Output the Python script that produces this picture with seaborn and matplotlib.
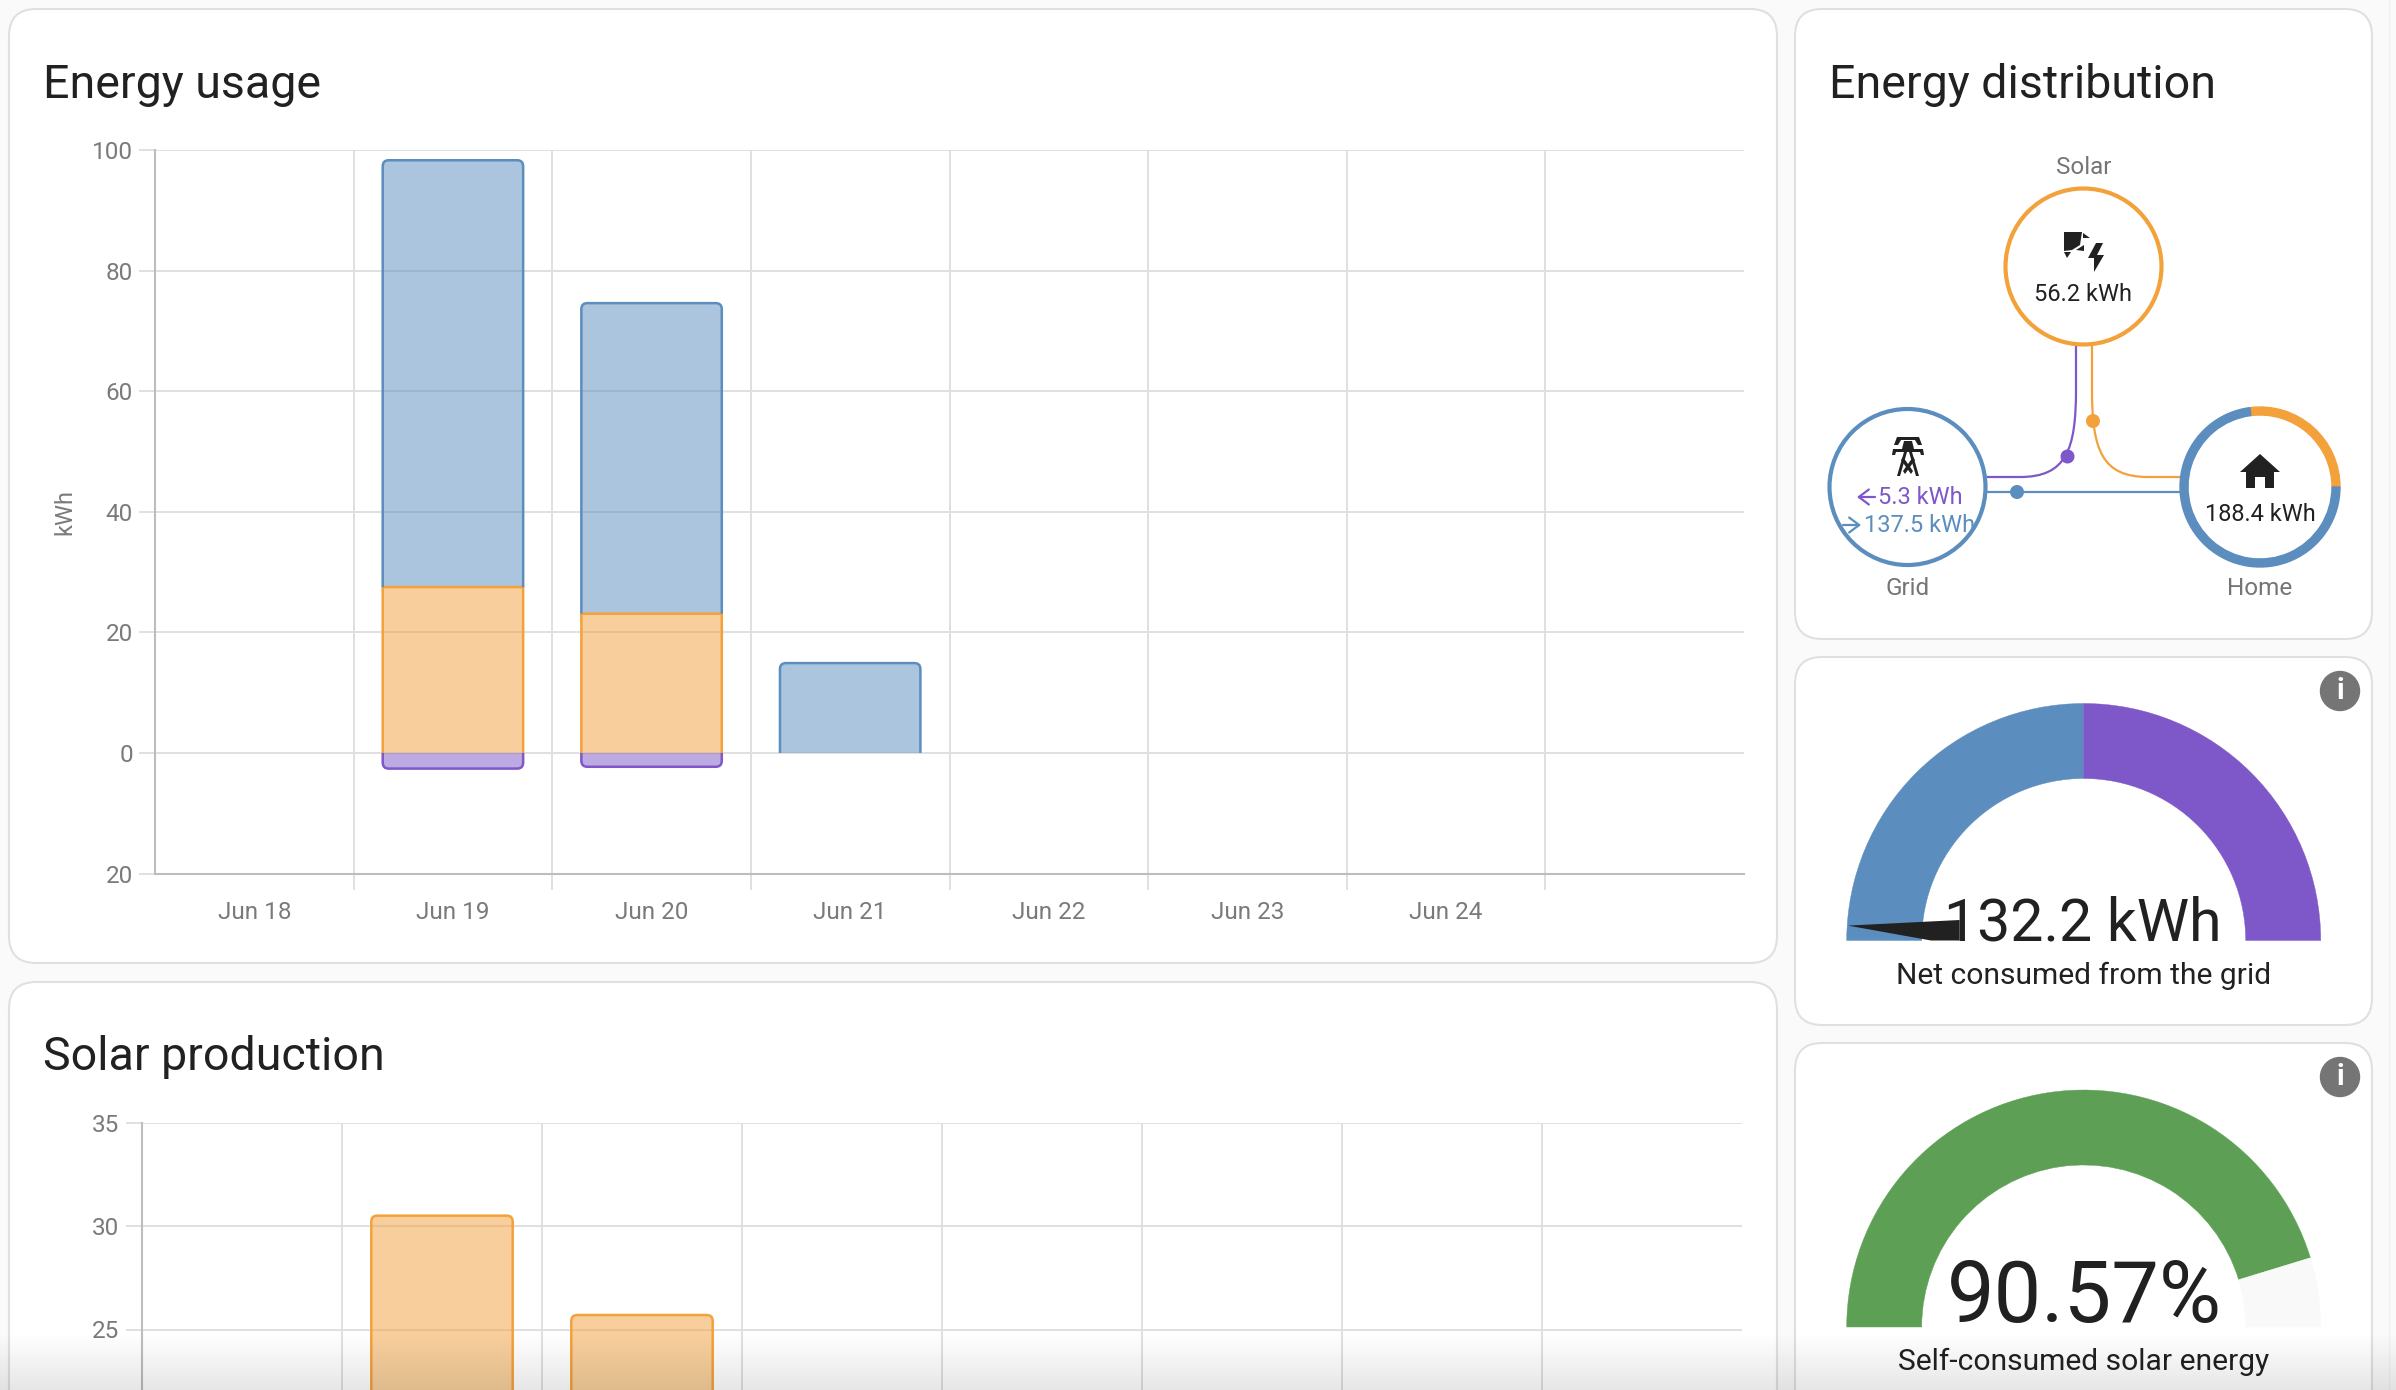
import numpy as np
import pandas as pd
import matplotlib
matplotlib.use('Agg')
import matplotlib.pyplot as plt
import seaborn as sns
from matplotlib.colors import to_rgba
from matplotlib.patches import Circle, FancyBboxPatch, PathPatch, Polygon, Wedge
from matplotlib.path import Path

sns.set_theme(style="white")
plt.rcParams['font.family'] = ['Roboto', 'DejaVu Sans']

# ── Data ─────────────────────────────────────────────────────────────────────
days = ['Jun 18', 'Jun 19', 'Jun 20', 'Jun 21', 'Jun 22', 'Jun 23', 'Jun 24', ' ']
solar_used = [None, 27.5, 23.1, None, None, None, None, None]
grid_used = [None, 70.8, 51.5, 14.9, None, None, None, None]
grid_returned = [None, -2.6, -2.3, None, None, None, None, None]
solar_made = [None, 30.5, 25.7, None, None, None, None, None]

usage_ticks = [100, 80, 60, 40, 20, 0, -20]
usage_ticklabels = ['100', '80', '60', '40', '20', '0', '20']
solar_ticks = [35, 30, 25]

solar_total = 56.2
grid_out = 5.3
grid_in = 137.5
home_total = 188.4
net_split = [50, 50]
self_consumed = 90.57

BLUE = '#5b8dbe'
ORANGE = '#f3a13a'
PURPLE = '#7e57c8'
GREEN = '#5da055'
INK = '#212121'
GREY = '#757575'
GRID = '#e0e0e0'
AXIS = '#bdbdbd'

W, H = 2396, 1390
fig = plt.figure(figsize=(W / 100, H / 100), dpi=100, facecolor='#fafafa')


def px_axes(left, top, right, bottom, zorder):
    return fig.add_axes([left / W, 1 - bottom / H, (right - left) / W, (bottom - top) / H], zorder=zorder)


# Page layer, everything here is in screenshot pixels
page = px_axes(0, 0, W, H, 0)
page.set_xlim(0, W)
page.set_ylim(H, 0)
page.axis('off')

for x0, y0, x1, y1 in [(9, 9, 1777, 963), (9, 982, 1777, 1600),
                       (1795, 9, 2372, 639), (1795, 657, 2372, 1025), (1795, 1043, 2372, 1600)]:
    page.add_patch(FancyBboxPatch((x0, y0), x1 - x0, y1 - y0, boxstyle='round,pad=0,rounding_size=27',
                                  facecolor='white', edgecolor=GRID, linewidth=1.5))
page.plot([2389, 2389], [0, H], color='#f0f0f0', linewidth=1)

for label, x, y in [('Energy usage', 43, 98), ('Solar production', 43, 1070), ('Energy distribution', 1829, 98)]:
    page.text(x, y, label, fontsize=33.5, color=INK, va='baseline')


# ── Bar charts ───────────────────────────────────────────────────────────────
def stacked(ax, values, color, bottoms=None):
    frame = pd.DataFrame({'day': days, 'kwh': values, 'base': bottoms if bottoms else [0.0] * len(days)})
    frame = frame.dropna(subset=['kwh'])
    before = len(ax.patches)
    sns.barplot(data=frame, x='day', y='kwh', order=days, color=color, saturation=1, width=0.707,
                errorbar=None, bottom=frame['base'].values, ax=ax)
    return ax.patches[before:]


def finish_axes(ax, yticks, ylabels, ylim):
    ax.set_facecolor('none')
    ax.set_xlim(-0.5, 7.5)
    ax.set_ylim(*ylim)
    ax.set_xlabel('')
    ax.set_ylabel('')
    ax.set_yticks(yticks)
    ax.set_yticklabels(ylabels)
    ax.set_xticks(np.arange(0.5, 7), minor=True)
    ax.grid(True, axis='y', which='major', color=GRID, linewidth=1.4, zorder=0)
    ax.grid(True, axis='x', which='minor', color=GRID, linewidth=1.4, zorder=0)
    ax.set_axisbelow(True)
    ax.tick_params(axis='x', which='major', length=0, pad=20, labelsize=17.5, labelcolor='#7a7a7a')
    ax.tick_params(axis='x', which='minor', length=11.5, width=1.4, color=GRID, bottom=True)
    ax.tick_params(axis='y', which='major', length=11.5, width=1.4, color=GRID, pad=4.5,
                   left=True, labelsize=17.5, labelcolor='#7a7a7a')
    sns.despine(ax=ax, top=True, right=True)
    for side in ['left', 'bottom']:
        ax.spines[side].set_color(AXIS)
        ax.spines[side].set_linewidth(1.5)


def outline(ax, bar, color, rounded=True, radius=6):
    """Round the bar through a clip path and stroke it, leaving its base side open."""
    x0, w = bar.get_x(), bar.get_width()
    base, tip = bar.get_y(), bar.get_y() + bar.get_height()
    p0, p1 = ax.transData.transform([(0, 0), (1, 1)])
    rx = radius / abs(p1[0] - p0[0])
    ry = radius / abs(p1[1] - p0[1])
    ry = min(ry, abs(tip - base)) * (1 if tip > base else -1)
    if not rounded:
        rx = ry = 0
    verts = [(x0, base), (x0, tip - ry), (x0, tip), (x0 + rx, tip),
             (x0 + w - rx, tip), (x0 + w, tip), (x0 + w, tip - ry), (x0 + w, base)]
    codes = [Path.MOVETO, Path.LINETO, Path.CURVE3, Path.CURVE3,
             Path.LINETO, Path.CURVE3, Path.CURVE3, Path.LINETO]
    bar.set_facecolor(to_rgba(color, 0.5))
    bar.set_edgecolor('none')
    bar.set_linewidth(0)
    bar.set_clip_path(Path(verts + [(x0, base)], codes + [Path.CLOSEPOLY]), ax.transData)
    ax.add_patch(PathPatch(Path(verts, codes), facecolor='none', edgecolor=color, linewidth=1.8, zorder=3))


usage_ax = px_axes(155, 150, 1744, 873.5, 1)
blue_base = [0.0 if v is None else v for v in solar_used]
usage_bars = [(stacked(usage_ax, solar_used, ORANGE), ORANGE),
              (stacked(usage_ax, grid_used, BLUE, blue_base), BLUE),
              (stacked(usage_ax, grid_returned, PURPLE), PURPLE)]
finish_axes(usage_ax, usage_ticks, usage_ticklabels, (-20, 100))
for bars, color in usage_bars:
    for bar in bars:
        outline(usage_ax, bar, color, rounded=color != ORANGE)
usage_ax.set_ylabel('kWh', fontsize=17, color='#7a7a7a', labelpad=11)

solar_ax = px_axes(142, 1122.5, 1742, H, 1)
solar_bars = stacked(solar_ax, solar_made, ORANGE)
finish_axes(solar_ax, solar_ticks, [str(t) for t in solar_ticks], (35 - (H - 1122.5) / 20.7, 35))
for bar in solar_bars:
    outline(solar_ax, bar, ORANGE)
solar_ax.spines['bottom'].set_visible(False)
solar_ax.tick_params(axis='x', which='both', labelbottom=False, bottom=False)
solar_ax.tick_params(axis='y', labelsize=17.5, pad=5)


# ── Energy distribution card ─────────────────────────────────────────────────
def flow(verts, codes, color):
    page.add_patch(PathPatch(Path(verts, codes), facecolor='none', edgecolor=color, linewidth=1.6))


M, L, C = Path.MOVETO, Path.LINETO, Path.CURVE4
flow([(2076, 345), (2076, 390), (2076, 450), (2066, 477), (2020, 477), (1987, 477)], [M, L, C, C, C, L], PURPLE)
flow([(2092, 345), (2092, 390), (2092, 450), (2102, 477), (2148, 477), (2180, 477)], [M, L, C, C, C, L], ORANGE)
flow([(1987, 492), (2180, 492)], [M, L], BLUE)
for x, y, color in [(2067.5, 456.5, PURPLE), (2093, 421, ORANGE), (2017, 492, BLUE)]:
    page.add_patch(Circle((x, y), 6.3, color=color, zorder=3))

page.add_patch(Circle((2083.5, 266.5), 78, facecolor='white', edgecolor=ORANGE, linewidth=3))
page.add_patch(Circle((1907.5, 487), 78, facecolor='white', edgecolor=BLUE, linewidth=3))

home_solar = solar_total - grid_out
home_angle = home_solar / home_total * 360
page.add_patch(Circle((2260, 487), 75, facecolor='white', edgecolor='none'))
# y axis is flipped on the page, so angles run clockwise here
page.add_patch(Wedge((2260, 487), 80, -home_angle, 0, width=8, color=ORANGE))
page.add_patch(Wedge((2260, 487), 80, 0, 360 - home_angle, width=8, color=BLUE))

for label, x, y in [('Solar', 2083.5, 167.5), ('Grid', 1907.5, 588.5), ('Home', 2260, 588.5)]:
    page.text(x, y, label, fontsize=17.5, color=GREY, ha='center', va='center')
page.text(2083.5, 294.5, f'{solar_total} kWh', fontsize=17, color=INK, ha='center', va='center')
page.text(2260, 514.5, f'{home_total} kWh', fontsize=17, color=INK, ha='center', va='center')
page.text(1878, 497.5, f'{grid_out} kWh', fontsize=17, color=PURPLE, va='center')
page.text(1864, 525.5, f'{grid_in} kWh', fontsize=17, color=BLUE, va='center')
page.annotate('', xy=(1857, 497), xytext=(1875, 497),
              arrowprops=dict(arrowstyle='->,head_length=0.4,head_width=0.3', color=PURPLE, lw=1.6,
                              shrinkA=0, shrinkB=0, mutation_scale=18))
page.annotate('', xy=(1861, 525), xytext=(1843, 525),
              arrowprops=dict(arrowstyle='->,head_length=0.4,head_width=0.3', color=BLUE, lw=1.6,
                              shrinkA=0, shrinkB=0, mutation_scale=18))

# solar panel icon
for pts in [[(2064, 232), (2082, 232), (2080, 245), (2072, 250), (2064, 251)],
            [(2083, 233), (2090, 238), (2083, 238)],
            [(2076, 250), (2084, 245), (2084, 251)],
            [(2064, 252), (2071, 252), (2067, 258)],
            [(2096, 243), (2088, 258), (2094, 258), (2094, 272), (2104, 255), (2097, 255), (2103, 243)]]:
    page.add_patch(Polygon(pts, color=INK, linewidth=0))
# house icon
page.add_patch(Polygon([(2260, 454), (2280, 472), (2274, 472), (2274, 488), (2265, 488), (2265, 477),
                        (2255, 477), (2255, 488), (2246, 488), (2246, 472), (2240, 472)], color=INK, linewidth=0))
# pylon icon
for pts in [[(1897, 437), (1919, 437), (1922, 445), (1918, 445), (1915, 440), (1901, 440), (1898, 445), (1894, 445)],
            [(1904, 441), (1912, 441), (1914, 449), (1923, 449), (1924, 455), (1921, 455), (1920, 452),
             (1896, 452), (1895, 455), (1892, 455), (1893, 449), (1902, 449)],
            [(1904, 452), (1907, 452), (1900, 476), (1897, 476)],
            [(1909, 452), (1912, 452), (1919, 476), (1916, 476)],
            [(1903, 457), (1913, 471), (1911, 474), (1901, 460)],
            [(1913, 457), (1915, 460), (1905, 474), (1903, 471)]]:
    page.add_patch(Polygon(pts, color=INK, linewidth=0))


# ── Gauges ───────────────────────────────────────────────────────────────────
def gauge_arc(base_y, start, end, color):
    # fractions of the half circle, going left to right over the top
    page.add_patch(Wedge((2083.7, base_y), 237, 180 + start * 180, 180 + end * 180, width=75,
                         facecolor=color, edgecolor=color, linewidth=0.3))


net_share = net_split[0] / sum(net_split)
gauge_arc(940.5, 0, net_share, BLUE)
gauge_arc(940.5, net_share, 1, PURPLE)
page.text(2083, 940.5, '132.2 kWh', fontsize=42.5, color=INK, ha='center', va='baseline')
page.add_patch(Polygon([(1848, 925.6), (1959.6, 920), (1959.6, 940.5), (1931, 940.5)],
                       color=INK, linewidth=0, zorder=4))
page.text(2084, 975.5, 'Net consumed from the grid', fontsize=21.6, color=INK, ha='center', va='center')

gauge_arc(1327, 0, self_consumed / 100, GREEN)
gauge_arc(1327, self_consumed / 100, 1, '#f9f9f9')
page.text(2084, 1322, f'{self_consumed}%', fontsize=61, color=INK, ha='center', va='baseline')
page.text(2084, 1362, 'Self-consumed solar energy', fontsize=21.6, color=INK, ha='center', va='center')

for y in [691, 1077]:
    page.add_patch(Circle((2340, y), 19.5, color=GREY))
    page.text(2340, y, 'i', fontsize=21, fontweight='bold', color='white', ha='center', va='center')

# Fade at the bottom edge of the screen
fade = px_axes(0, 1333, W, H, 3)
fade.axis('off')
shade = np.zeros((64, 1, 4))
shade[:, 0, 3] = np.linspace(0, 0.1, 64)
fade.imshow(shade, aspect='auto', interpolation='bilinear')

fig.savefig('out.png', dpi=100, facecolor=fig.get_facecolor())
plt.close()
